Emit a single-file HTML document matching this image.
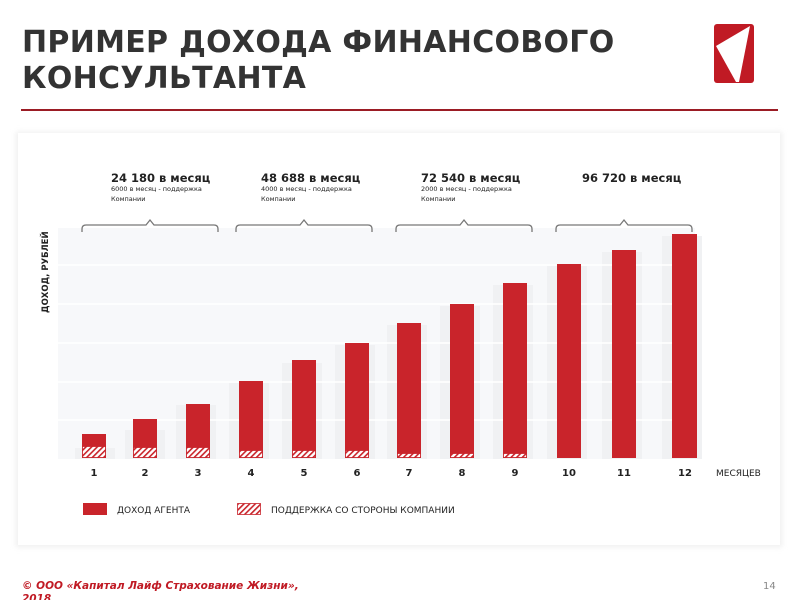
<!DOCTYPE html>
<html><head><meta charset="utf-8"><style>
body{margin:0;width:800px;height:600px;background:#fff;overflow:hidden}
svg{display:block}
</style></head><body>
<svg width="800" height="600" xmlns="http://www.w3.org/2000/svg" font-family="'DejaVu Sans','Liberation Sans',sans-serif">
<defs>
<pattern id="h" width="4" height="4" patternUnits="userSpaceOnUse" patternTransform="rotate(45)">
<rect width="4" height="4" fill="#fff"/><rect width="1.6" height="4" fill="#c9242b"/>
</pattern>
<filter id="sh" x="-5%" y="-5%" width="110%" height="110%"><feGaussianBlur stdDeviation="3"/></filter>
</defs>
<text x="22" y="52" font-size="30" font-weight="bold" fill="#333" letter-spacing="0.3">ПРИМЕР ДОХОДА ФИНАНСОВОГО</text>
<text x="22" y="88" font-size="30" font-weight="bold" fill="#333" letter-spacing="0.3">КОНСУЛЬТАНТА</text>
<rect x="21" y="109" width="757" height="2" fill="#9b1c24"/>
<rect x="714" y="24" width="40" height="59" rx="3" fill="#c01a24"/>
<polygon points="716,46 750,26 739,82 736,82" fill="#fff"/>
<rect x="16" y="132" width="766" height="415" fill="#eee" filter="url(#sh)"/>
<rect x="18" y="133" width="762" height="412" fill="#fff"/>
<rect x="58" y="228" width="637" height="231" fill="#f7f8fa"/>
<g fill="#f0f1f3">
<rect x="75" y="448" width="40" height="11"/><rect x="125" y="430" width="40" height="29"/><rect x="176" y="405" width="40" height="54"/>
<rect x="229" y="383" width="40" height="76"/><rect x="282" y="363" width="40" height="96"/><rect x="335" y="345" width="40" height="114"/>
<rect x="387" y="325" width="40" height="134"/><rect x="440" y="306" width="40" height="153"/><rect x="493" y="285" width="40" height="174"/>
<rect x="547" y="266" width="40" height="193"/><rect x="602" y="252" width="40" height="207"/><rect x="662" y="236" width="40" height="223"/>
</g>
<g stroke="#fff" stroke-width="1.5">
<line x1="58" y1="265" x2="695" y2="265"/><line x1="58" y1="304" x2="695" y2="304"/><line x1="58" y1="343" x2="695" y2="343"/><line x1="58" y1="382" x2="695" y2="382"/><line x1="58" y1="420" x2="695" y2="420"/>
</g>
<g fill="#c9242b">
<rect x="82" y="434" width="24" height="24"/><rect x="133" y="419" width="24" height="39"/><rect x="186" y="404" width="24" height="54"/>
<rect x="239" y="381" width="24" height="77"/><rect x="292" y="360" width="24" height="98"/><rect x="345" y="343" width="24" height="115"/>
<rect x="397" y="323" width="24" height="135"/><rect x="450" y="304" width="24" height="154"/><rect x="503" y="283" width="24" height="175"/>
<rect x="557" y="264" width="24" height="194"/><rect x="612" y="250" width="24" height="208"/><rect x="672" y="234" width="25" height="224"/>
</g>
<g fill="url(#h)" stroke="#c9242b" stroke-width="0.8">
<rect x="82.5" y="446.5" width="23" height="11"/><rect x="133.5" y="447.5" width="23" height="10"/><rect x="186.5" y="447.5" width="23" height="10"/>
<rect x="239.5" y="450.5" width="23" height="7"/><rect x="292.5" y="450.5" width="23" height="7"/><rect x="345.5" y="450.5" width="23" height="7"/>
<rect x="397.5" y="453.5" width="23" height="4"/><rect x="450.5" y="453.5" width="23" height="4"/><rect x="503.5" y="453.5" width="23" height="4"/>
</g>
<g font-size="10" font-weight="bold" fill="#222" text-anchor="middle">
<text x="94" y="476">1</text><text x="145" y="476">2</text><text x="198" y="476">3</text><text x="251" y="476">4</text><text x="304" y="476">5</text><text x="357" y="476">6</text>
<text x="409" y="476">7</text><text x="462" y="476">8</text><text x="515" y="476">9</text><text x="569" y="476">10</text><text x="624" y="476">11</text><text x="685" y="476">12</text>
</g>
<text x="716" y="476" font-size="9" fill="#222">МЕСЯЦЕВ</text>
<text transform="translate(48,313) rotate(-90)" font-size="8.5" font-weight="bold" fill="#222">ДОХОД, РУБЛЕЙ</text>
<g fill="none" stroke="#777" stroke-width="1.3">
<path d="M82,232 v-3 q0,-4 4,-4 h60 l4,-5 l4,5 h60 q4,0 4,4 v3"/>
<path d="M236,232 v-3 q0,-4 4,-4 h60 l4,-5 l4,5 h60 q4,0 4,4 v3"/>
<path d="M396,232 v-3 q0,-4 4,-4 h60 l4,-5 l4,5 h60 q4,0 4,4 v3"/>
<path d="M556,232 v-3 q0,-4 4,-4 h60 l4,-5 l4,5 h60 q4,0 4,4 v3"/>
</g>
<g fill="#222">
<text x="111" y="182" font-size="11.5" font-weight="bold">24 180 в месяц</text>
<text x="111" y="191" font-size="6.5">6000 в месяц  - поддержка</text>
<text x="111" y="201" font-size="6.5">Компании</text>
<text x="261" y="182" font-size="11.5" font-weight="bold">48 688 в месяц</text>
<text x="261" y="191" font-size="6.5">4000 в месяц  - поддержка</text>
<text x="261" y="201" font-size="6.5">Компании</text>
<text x="421" y="182" font-size="11.5" font-weight="bold">72 540 в месяц</text>
<text x="421" y="191" font-size="6.5">2000 в месяц  - поддержка</text>
<text x="421" y="201" font-size="6.5">Компании</text>
<text x="582" y="182" font-size="11.5" font-weight="bold">96 720 в месяц</text>
</g>
<rect x="83" y="503" width="24" height="12" fill="#c9242b"/>
<text x="117" y="513" font-size="9" fill="#222">ДОХОД АГЕНТА</text>
<rect x="237.5" y="503.5" width="23" height="11" fill="url(#h)" stroke="#c9242b" stroke-width="0.8"/>
<text x="271" y="513" font-size="9" fill="#222">ПОДДЕРЖКА СО СТОРОНЫ КОМПАНИИ</text>
<text x="22" y="589" font-size="10.5" font-weight="bold" font-style="italic" fill="#c01a24">© ООО «Капитал Лайф Страхование Жизни»,</text>
<text x="22" y="602" font-size="10.5" font-weight="bold" font-style="italic" fill="#c01a24">2018</text>
<text x="763" y="589" font-size="10" fill="#888">14</text>
</svg>
</body></html>
